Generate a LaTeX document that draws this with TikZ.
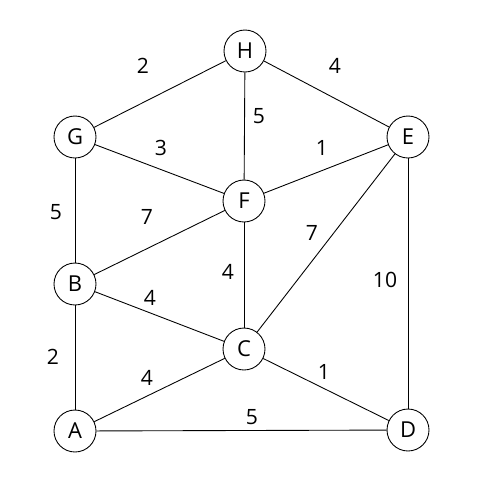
\documentclass[tikz,border=0pt]{standalone}
\usepackage{fontspec}
\setmainfont{Open Sans}
\usetikzlibrary{positioning}
\tikzset{
  vert/.style={circle, draw, line width=0.5pt, fill=white, minimum size=0.84cm,
               inner sep=0pt, font=\fontsize{12.5}{15}\selectfont},
  wt/.style={font=\fontsize{12}{14}\selectfont, inner sep=1pt},
  link/.style={line width=0.5pt},
}
\begin{document}
\begin{tikzpicture}[x=0.02cm, y=-0.02cm]
  \useasboundingbox (0,0) rectangle (490,478);
  % vertices
  \node[vert] (H) at (245,51)  {H};
  \node[vert] (G) at (75,137)  {G};
  \node[vert] (E) at (408,137) {E};
  \node[vert] (F) at (244,201) {F};
  \node[vert] (B) at (75,284)  {B};
  \node[vert] (C) at (244,349) {C};
  \node[vert] (A) at (75,431)  {A};
  \node[vert] (D) at (408,430) {D};
  % edges
  \foreach \u/\v in {G/H, H/E, H/F, G/F, F/E, G/B, B/F, C/E,
                     F/C, E/D, B/C, B/A, A/C, C/D, A/D}
    \draw[link] (\u) -- (\v);
  % weights
  \node[wt] (wGH) at (143,66)  {2};
  \node[wt] (wHE) at (335,66)  {4};
  \node[wt] (wHF) at (259,116) {5};
  \node[wt] (wGF) at (161,148) {3};
  \node[wt] (wFE) at (322,148) {1};
  \node[wt] (wGB) at (56,212)  {5};
  \node[wt] (wBF) at (147,217) {7};
  \node[wt] (wCE) at (312,233) {7};
  \node[wt] (wFC) at (228,272) {4};
  \node[wt] (wED) at (385,280) {10};
  \node[wt] (wBC) at (150,298) {4};
  \node[wt] (wBA) at (53,357)  {2};
  \node[wt] (wAC) at (147,378) {4};
  \node[wt] (wCD) at (324,372) {1};
  \node[wt] (wAD) at (252,417) {5};
\end{tikzpicture}
\end{document}
